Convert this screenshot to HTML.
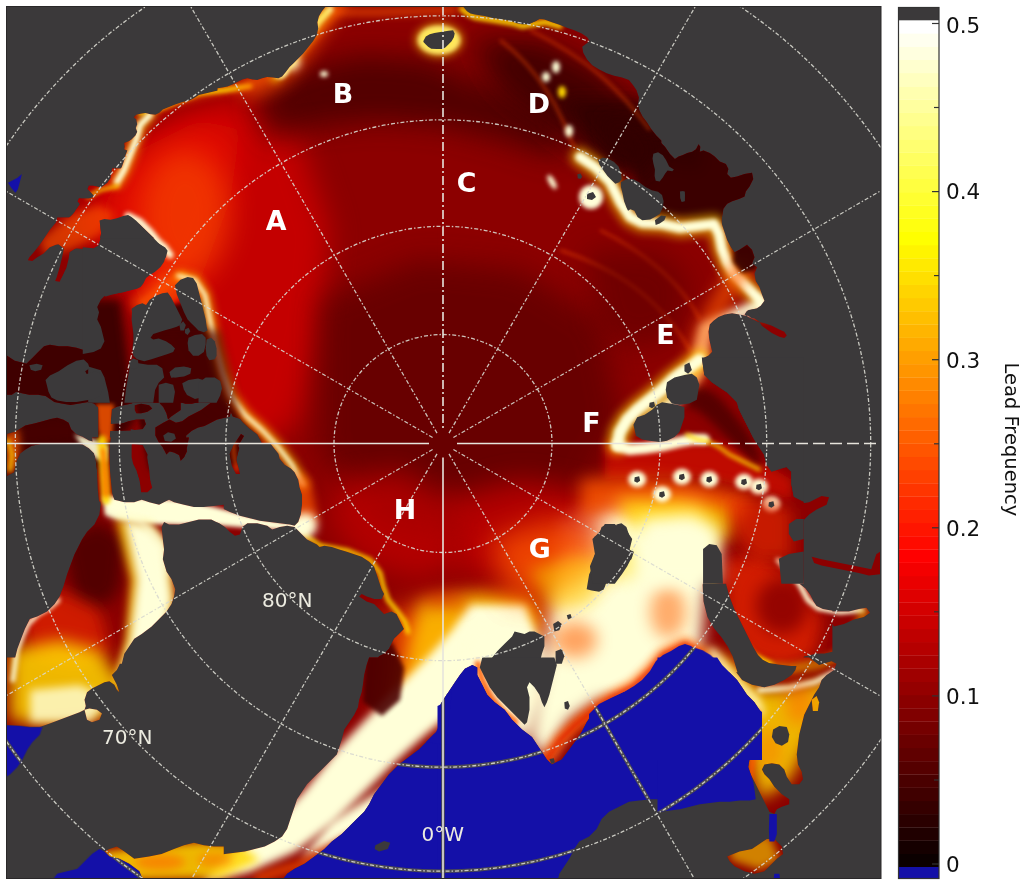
<!DOCTYPE html>
<html><head><meta charset="utf-8"><title>Lead Frequency</title>
<style>
html,body{margin:0;padding:0;background:#fff;}
svg{display:block;}
.lbl{font-family:"DejaVu Sans","Liberation Sans",sans-serif;font-weight:bold;font-size:26.8px;fill:#fff;}
.lat{font-family:"DejaVu Sans","Liberation Sans",sans-serif;font-size:20px;fill:#ecebe0;}
.cb{font-family:"DejaVu Sans","Liberation Sans",sans-serif;font-size:21.5px;fill:#111;}
</style></head>
<body>
<svg width="1024" height="885" viewBox="0 0 1024 885">
<defs>
<clipPath id="mapclip"><rect x="6" y="6" width="875" height="872.5"/></clipPath>
<filter id="b2" filterUnits="userSpaceOnUse" x="0" y="0" width="1024" height="885"><feGaussianBlur stdDeviation="2"/></filter>
<filter id="b4" filterUnits="userSpaceOnUse" x="0" y="0" width="1024" height="885"><feGaussianBlur stdDeviation="4"/></filter>
<filter id="b8" filterUnits="userSpaceOnUse" x="0" y="0" width="1024" height="885"><feGaussianBlur stdDeviation="8"/></filter>
<filter id="b14" filterUnits="userSpaceOnUse" x="0" y="0" width="1024" height="885"><feGaussianBlur stdDeviation="14"/></filter>
</defs>
<rect x="0" y="0" width="1024" height="885" fill="#fff"/>
<g clip-path="url(#mapclip)">
<rect x="6" y="6" width="875" height="873" fill="#3b393a"/>
<defs><g id="iceG"><polygon transform="translate(0,0) scale(0.248588)" points="900,360 885,362 860,368 830,375 800,382 780,395 760,405 735,410 705,420 680,430 655,440 640,455 625,462 605,460 585,455 565,458 548,462 538,472 548,480 552,500 546,515 552,530 545,545 530,560 518,568 500,575 502,590 500,600 512,605 505,625 498,650 490,672 478,690 462,695 445,705 448,720 470,730 480,740 470,748 452,752 435,758 415,762 395,760 380,750 358,748 352,760 370,778 380,790 360,800 338,805 318,798 312,810 322,822 305,845 290,870 280,900 900,900"/>
<polygon transform="translate(220,0) scale(0.248588)" points="-10,355 10,352 30,348 50,340 70,330 90,320 110,315 130,320 150,322 170,315 190,310 210,312 235,315 250,308 265,290 280,270 295,255 315,235 335,215 355,190 375,165 390,140 395,115 392,90 398,65 410,45 430,20 900,20 900,900 -10,900"/>
<polygon transform="translate(440,0) scale(0.248588)" points="-10,20 300,20 300,60 310,80 330,95 360,95 385,85 400,75 420,78 450,90 480,100 510,112 540,122 570,135 592,150 602,165 588,176 572,188 576,212 592,240 612,262 640,280 670,295 700,305 732,312 760,322 776,342 790,362 800,392 796,420 802,445 815,470 832,492 850,520 870,545 890,565 900,900 -10,900"/>
<polygon transform="translate(660,0) scale(0.248588)" points="-10,560 0,570 20,590 40,620 60,640 75,630 90,625 110,615 130,610 145,600 155,580 162,590 160,610 175,605 200,615 220,630 240,650 265,660 275,680 270,700 285,715 310,710 340,700 370,695 375,720 360,750 345,770 340,790 320,800 290,810 270,820 255,840 250,870 245,900 -10,900"/>
<polygon transform="translate(0,220) scale(0.248588)" points="230,-10 225,10 200,40 180,70 160,100 140,125 118,150 112,162 130,165 150,150 175,135 200,110 225,100 250,95 258,110 250,150 240,190 228,230 222,245 240,248 255,215 265,175 272,140 280,120 300,115 330,110 350,125 352,150 362,140 380,125 400,118 420,125 440,150 455,175 462,185 470,180 455,150 435,125 410,105 400,80 402,40 405,10 410,-10"/>
<polygon transform="translate(100,350) scale(0.158192)" points="180,60 250,40 330,60 370,20 450,10 560,20 650,60 720,100 760,160 760,220 720,260 690,290 660,300 620,330 580,340 540,340 510,330 510,380 480,400 450,420 430,440 420,400 400,360 380,340 360,300 380,240 400,200 390,160 360,150 330,120 290,100 250,110 200,130 180,110"/>
<polygon transform="translate(100,350) scale(0.158192)" points="350,490 400,460 440,440 480,460 520,450 560,420 600,400 640,380 680,350 720,320 760,300 800,340 830,380 820,420 780,430 740,440 700,460 660,480 620,490 580,510 545,540 540,600 550,640 530,680 510,700 500,660 470,630 440,640 420,660 400,620 370,580 350,540"/>
<polygon transform="translate(100,350) scale(0.158192)" points="220,350 260,340 310,350 330,370 300,390 260,400 230,400 220,380"/>
<polygon transform="translate(100,350) scale(0.158192)" points="130,470 180,450 230,440 280,440 290,470 270,500 220,505 170,495 130,490"/>
<polygon transform="translate(100,350) scale(0.158192)" points="-10,350 40,350 60,380 70,430 65,480 110,480 115,500 60,510 55,560 45,620 50,680 60,760 70,900 -10,900"/>
<polygon transform="translate(100,350) scale(0.158192)" points="200,600 270,600 300,660 290,740 310,800 330,870 300,900 260,900 250,820 230,760 210,720 200,680"/>
<polygon transform="translate(100,350) scale(0.158192)" points="830,630 870,600 880,620 860,700 870,770 850,760 840,700 820,660"/>
<polygon transform="translate(100,350) scale(0.158192)" points="-10,0 190,0 185,80 170,150 150,200 140,260 150,320 130,340 100,330 80,300 60,280 40,260 20,300 -10,310"/>
<polygon transform="translate(100,350) scale(0.158192)" points="700,-10 900,-10 900,440 840,420 800,330 770,280 760,200 740,120 730,40"/>
<polygon transform="translate(220,220) scale(0.248588)" points="-10,-10 900,-10 900,900 170,900 150,862 120,840 90,812 62,772 42,735 25,710 12,680 5,650 -10,620"/>
<polygon transform="translate(440,220) scale(0.248588)" points="-10,-10 900,-10 900,900 -10,900"/>
<polygon transform="translate(660,220) scale(0.248588)" points="-10,-10 245,-10 250,20 260,50 270,80 285,110 300,130 320,120 350,100 370,120 380,150 370,175 390,190 380,215 385,245 400,270 410,300 420,325 405,345 390,355 370,360 350,365 340,380 355,390 375,400 395,410 420,415 450,425 480,440 500,450 510,465 500,475 480,470 450,455 430,440 410,425 400,410 380,395 360,385 345,385 320,380 290,375 260,380 235,390 215,405 200,420 195,450 198,480 205,510 210,530 195,545 175,555 160,560 140,570 120,580 105,590 100,610 120,640 150,660 180,670 210,680 240,690 260,690 280,700 300,720 320,740 310,760 300,780 320,800 340,820 350,850 360,900 -10,900"/>
<polygon transform="translate(60,170) scale(0.158192)" points="330,-10 320,50 300,80 260,110 210,100 180,100 200,130 230,150 200,180 150,180 120,180 130,210 100,260 60,300 20,330 -10,345 -10,470 30,500 45,530 30,580 15,630 -10,690 -10,700 10,680 40,620 55,560 60,520 100,495 150,500 170,525 180,545 195,510 240,495 280,520 320,560 345,600 355,595 330,540 300,505 265,490 250,440 260,400 250,320 400,290 450,295 680,510 530,690 400,770 320,790 280,810 250,860 240,900 560,900 600,860 650,810 700,770 760,720 800,690 840,690 870,720 900,760 900,-10"/>
<polygon points="195,220 225,220 225,262 195,262"/>
<polygon transform="translate(0,440) scale(0.248588)" points="55,900 70,840 85,800 100,760 120,720 150,710 190,690 220,660 240,630 255,590 270,540 285,500 300,460 315,430 330,400 350,370 380,340 400,300 405,260 400,220 395,170 390,120 385,80 378,40 370,-10 445,-10 440,40 440,80 442,140 445,200 460,240 500,250 540,250 570,240 600,250 640,260 680,240 700,250 740,260 780,270 820,270 860,265 900,260 900,340 870,330 850,320 800,320 760,330 720,340 700,340 680,340 660,330 650,350 655,400 660,440 655,480 670,530 690,560 705,600 700,630 690,660 670,690 640,720 610,750 570,780 540,800 520,830 500,860 490,900"/>
<polygon transform="translate(0,440) scale(0.248588)" points="530,15 570,20 590,60 600,120 605,170 590,190 570,190 555,140 545,90 535,40"/>
<polygon transform="translate(0,440) scale(0.248588)" points="640,-10 760,-10 750,40 740,70 700,50 660,40"/>
<polygon transform="translate(220,440) scale(0.248588)" points="195,-10 200,10 215,30 235,55 240,75 260,100 285,115 300,130 315,160 320,190 330,220 330,260 325,300 315,330 300,345 280,340 240,335 200,330 160,325 120,315 80,305 40,290 -10,265 -10,330 20,350 40,370 60,385 80,380 90,350 110,335 150,335 190,345 210,360 240,350 270,345 300,350 330,380 350,400 370,410 390,420 400,430 420,425 450,430 480,440 510,450 540,460 570,470 600,490 620,510 630,540 640,570 650,600 660,620 650,640 620,640 590,630 570,620 560,630 590,650 620,660 640,680 660,700 690,690 710,700 720,720 730,740 740,760 720,780 700,800 690,820 680,840 660,860 640,870 620,900 900,900 900,-10"/>
<polygon points="241,434 244,436 238,446 235,456 238,466 240,474 236,474 232,466 230,456 233,446"/>
<polygon transform="translate(440,440) scale(0.248588)" points="-10,-10 900,-10 900,900 -10,900"/>
<polygon transform="translate(660,440) scale(0.248588)" points="-10,-10 380,-10 390,40 410,80 420,100 440,110 470,120 490,100 500,120 510,150 520,180 525,210 530,240 520,280 510,320 500,360 490,400 480,430 470,470 440,490 400,480 350,470 300,460 250,430 220,420 190,420 170,430 -10,430"/>
<polygon transform="translate(660,440) scale(0.248588)" points="-10,420 130,420 130,900 -10,900"/>
<polygon transform="translate(660,440) scale(0.248588)" points="540,260 600,250 650,225 680,230 670,260 630,280 600,300 570,330 555,350 545,380 520,390 510,360 525,330 545,300"/>
<polygon transform="translate(660,440) scale(0.248588)" points="610,470 650,480 700,490 750,500 800,510 850,520 870,460 885,450 885,540 840,545 800,535 750,525 700,515 650,505 620,495"/>
<polygon transform="translate(660,440) scale(0.248588)" points="680,690 720,690 760,690 800,680 830,675 845,695 820,712 780,722 740,740 700,750 680,720"/>
<polygon transform="translate(690,530) scale(0.158192)" points="195,-10 600,-10 605,60 590,120 570,170 560,190 580,240 620,290 680,330 730,370 760,410 780,450 800,480 840,500 900,510 900,770 850,780 800,780 760,790 720,800 700,860 640,860 560,850 500,840 460,820 430,790 400,740 370,680 340,620 310,560 280,500 250,420 230,350 220,280 210,200 195,130"/>
<polygon transform="translate(690,530) scale(0.158192)" points="-10,-10 195,-10 195,100 180,95 90,100 80,150 90,250 80,350 85,450 110,550 150,620 200,680 240,740 270,800 300,900 -10,900"/>
<polygon transform="translate(0,660) scale(0.248588)" points="-10,-10 490,-10 480,20 470,40 450,60 460,80 470,100 480,130 470,120 460,100 440,85 420,90 400,100 370,115 350,130 340,160 345,185 340,200 320,210 280,225 240,240 200,255 160,270 120,270 80,265 -10,260"/>
<polygon transform="translate(0,660) scale(0.248588)" points="340,200 360,195 390,200 410,215 400,240 370,250 350,240"/>
<polygon transform="translate(0,660) scale(0.248588)" points="420,770 440,760 470,750 500,770 540,800 600,790 650,780 700,760 740,745 780,735 820,745 860,750 900,750 900,900 580,900 560,850 520,820 480,800 440,790"/>
<polygon transform="translate(220,660) scale(0.248588)" points="600,-10 590,20 580,60 575,100 570,130 560,160 555,190 540,220 520,250 500,280 490,320 480,350 470,380 450,400 430,420 410,440 390,460 370,480 350,500 330,530 310,560 300,590 290,620 280,650 270,680 250,710 220,730 180,750 140,760 100,770 60,775 20,780 -10,785 -10,900 240,900 270,860 300,840 340,820 380,790 420,760 450,730 490,700 520,670 550,640 580,610 600,580 620,540 650,500 680,460 720,420 760,390 800,360 830,330 860,300 900,270 900,-10"/>
<polygon transform="translate(440,660) scale(0.248588)" points="-10,-10 900,-10 900,50 885,60 850,80 820,100 780,120 740,130 700,150 660,170 630,190 610,220 590,250 570,290 550,320 520,360 490,400 470,410 450,420 430,400 410,370 390,340 370,310 330,280 290,240 260,200 220,170 190,140 170,100 150,60 150,30 130,20 100,35 80,60 60,90 40,120 20,150 0,180 -10,185"/>
<polygon transform="translate(660,660) scale(0.248588)" points="230,-10 290,-10 300,40 330,80 370,100 420,110 460,100 500,80 530,60 545,40 550,20 545,-10 600,-10 640,20 690,5 710,15 700,40 670,60 650,80 640,110 620,140 600,180 580,220 570,260 560,300 555,340 550,380 555,420 570,450 575,480 560,500 530,500 510,470 500,440 480,420 450,415 420,420 410,440 420,460 440,480 460,510 490,540 520,560 520,580 490,590 470,600 460,620 440,610 420,570 400,530 385,500 365,460 355,430 360,400 370,360 380,320 390,280 400,240 400,200 380,170 350,140 330,110 310,80 280,50 250,20"/>
<polygon transform="translate(660,660) scale(0.248588)" points="270,790 320,770 370,760 400,740 430,720 460,720 490,750 495,780 470,800 440,830 420,850 380,860 340,850 300,830 280,810"/>
<polygon transform="translate(660,660) scale(0.248588)" points="610,160 630,145 640,170 635,205 615,205"/>
<polygon transform="translate(90,240) scale(0.180791)" points="-10,-10 900,-10 900,900 -10,900"/>
<polygon transform="translate(0,330) scale(0.146893)" points="40,170 100,210 180,230 220,190 260,150 300,110 340,100 400,110 460,110 520,120 580,140 620,160 670,180 700,160 720,100 710,50 700,-10 900,-10 900,500 800,520 760,540 700,530 660,520 640,500 600,490 540,500 480,510 420,500 370,490 340,470 310,450 260,440 200,440 150,430 110,420 80,440 40,440"/>
<polygon transform="translate(580,360) scale(0.248588)" points="-10,-10 490,-10 500,60 530,90 560,110 590,130 610,150 630,170 640,200 660,240 680,280 700,320 720,350 740,380 750,420 770,450 800,440 830,430 850,450 850,500 860,550 900,570 900,900 -10,900"/>
<polygon transform="translate(0,400) scale(0.126953)" points="50,270 120,250 200,200 270,185 330,170 400,150 450,140 500,155 540,180 560,230 600,270 650,290 700,320 770,335 790,330 800,300 790,200 785,100 770,40 800,-10 890,-10 880,80 870,200 865,300 860,400 862,500 870,600 880,700 890,800 780,800 770,700 765,560 760,480 740,420 700,380 650,350 580,340 450,340 330,345 250,360 200,390 160,420 130,480 110,570 50,600"/>
<polygon transform="translate(0,400) scale(0.126953)" points="860,190 1030,185 1030,240 870,245"/></g><g id="oceanG"><polygon transform="translate(0,0) scale(0.248588)" points="32,735 70,715 88,700 72,760 62,775 45,755"/>
<polygon transform="translate(690,530) scale(0.158192)" points="-10,740 30,745 80,760 130,790 170,830 200,880 210,900 -10,900"/>
<polygon transform="translate(0,660) scale(0.248588)" points="-10,260 80,265 120,270 170,270 160,300 130,330 110,360 90,400 70,430 40,460 -10,490"/>
<polygon transform="translate(0,660) scale(0.248588)" points="200,900 230,860 270,850 310,840 340,810 370,780 400,760 420,770 440,790 480,800 520,820 560,850 580,900"/>
<polygon transform="translate(220,660) scale(0.248588)" points="240,900 270,860 300,840 340,820 380,790 420,760 450,730 490,700 520,670 550,640 580,610 600,580 620,540 650,500 680,460 720,420 760,390 800,360 830,330 860,300 900,270 900,900"/>
<polygon transform="translate(440,660) scale(0.248588)" points="-10,185 0,180 20,150 40,120 60,90 80,60 100,35 130,20 150,30 150,60 170,100 190,140 220,170 260,200 290,240 330,280 370,310 390,340 410,370 430,400 450,420 470,410 490,400 520,360 550,320 570,290 590,250 610,220 630,190 660,170 700,150 740,130 780,120 820,100 850,80 885,60 900,50 900,560 850,560 800,565 760,570 720,590 680,610 650,640 630,680 600,710 560,730 540,760 520,800 500,830 480,860 470,900 -10,900"/>
<polygon transform="translate(660,660) scale(0.248588)" points="-10,-10 230,-10 250,20 280,50 310,80 330,110 350,140 380,170 400,200 400,240 390,280 380,320 370,360 360,400 355,430 365,460 375,490 380,520 385,560 360,565 320,565 280,570 240,570 200,575 160,580 120,590 80,600 40,605 0,610 -10,612"/>
<polygon transform="translate(660,660) scale(0.248588)" points="440,620 470,620 470,700 460,730 440,730 438,680"/>
<polygon transform="translate(660,660) scale(0.248588)" points="460,860 480,860 485,900 455,900"/>
<polygon points="589,714 599,704 611,698 624,692 634,686 642,680 650,671 656,661 663,655 671,651 679,646 685,644 691,646 697,651 704,657 714,661 722,667 728,675 734,682 740,692 748,700 755,706 762,712 762,760 589,760"/>
<polygon points="426,742 436,732 440,724 441.5,716 442.2,708 444,700 447,694 452,691 446,745"/></g>
<mask id="iceMask" maskUnits="userSpaceOnUse" x="0" y="0" width="1024" height="885"><use href="#iceG" fill="#fff"/></mask>
<mask id="oceanMask" maskUnits="userSpaceOnUse" x="0" y="0" width="1024" height="885"><use href="#oceanG" fill="#fff"/></mask></defs>
<use href="#iceG" fill="#8c0000"/>
<g mask="url(#iceMask)">
<polygon points="60,230 110,160 160,120 230,95 280,90 300,140 330,230 320,330 300,420 260,450 200,420 150,330 110,260" fill="#c40000" filter="url(#b14)"/>
<polygon points="100,210 140,150 200,120 240,130 230,200 200,280 170,330 140,300 120,250" fill="#e81000" filter="url(#b14)" opacity="0.8"/>
<ellipse cx="185" cy="215" rx="45" ry="65" fill="#ff5a00" filter="url(#b14)" opacity="0.5"/>
<polygon points="250,95 300,70 360,55 430,60 470,80 520,95 560,120 560,160 500,140 440,125 380,120 320,125 270,140" fill="#4a0000" filter="url(#b14)" opacity="0.85"/>
<polygon points="320,300 420,260 520,270 600,320 620,420 580,500 480,540 380,520 320,450" fill="#600000" filter="url(#b14)" opacity="0.8"/>
<polygon points="470,40 540,40 600,70 640,110 650,160 620,180 580,150 540,120 500,90" fill="#300000" filter="url(#b14)" opacity="0.8"/>
<polygon points="560,100 640,100 700,140 700,170 660,160 620,170 590,140" fill="#300000" filter="url(#b8)" opacity="0.9"/>
<polyline points="330,10 350,12 380,12 420,11 455,10" fill="none" stroke="#ff5a00" stroke-width="6" stroke-linejoin="round" stroke-linecap="round" filter="url(#b4)" opacity="0.8"/>
<polyline points="462,9 467,13 475,17 494,20 512,23 522,26 534,24 545,22 560,26" fill="none" stroke="#ffd800" stroke-width="6" stroke-linejoin="round" stroke-linecap="round" filter="url(#b2)" opacity="0.9"/>
<polyline points="340,8 300,50 270,75 240,88 210,92 180,100 150,112" fill="none" stroke="#ff5a00" stroke-width="5" stroke-linejoin="round" stroke-linecap="round" filter="url(#b4)" opacity="0.8"/>
<polygon points="385,615 440,600 520,595 560,615 520,655 470,690 420,720 385,720 392,660" fill="#ff5a00" filter="url(#b14)" opacity="0.85"/>
<polygon points="420,600 480,592 530,600 540,630 500,670 450,700 410,720 400,690" fill="#ffd800" filter="url(#b8)" opacity="0.7"/>
<polygon points="470,605 525,605 535,640 495,680 455,710 425,735 395,762 365,792 335,822 295,852 250,872 200,882 235,852 275,822 305,790 335,752 365,720 395,690 425,660 452,630" fill="#ffffd8" filter="url(#b4)"/>
<polygon points="330,822 380,790 420,760 440,740 470,720 440,770 400,800 360,830 300,860" fill="#ffffd8" filter="url(#b4)"/>
<polygon points="366,652 392,642 404,668 400,700 382,716 363,702" fill="#4a0000" filter="url(#b2)" opacity="0.9"/>
<polyline points="258,878 300,865 335,848 370,828 400,806 430,783 455,765 480,745 505,726 525,705 545,688" fill="none" stroke="#ff5a00" stroke-width="8" stroke-linejoin="round" stroke-linecap="round" filter="url(#b4)" opacity="0.8"/>
<polygon points="560,520 620,500 700,500 715,540 705,600 700,660 690,700 640,700 600,700 570,720 545,760 530,740 535,700 545,660 550,610" fill="#ffffd8" filter="url(#b8)"/>
<polygon points="470,640 520,620 550,650 545,700 530,740 500,730 480,690" fill="#ffffd8" filter="url(#b8)"/>
<ellipse cx="575" cy="640" rx="22" ry="18" fill="#ff5a00" filter="url(#b8)" opacity="0.55"/>
<ellipse cx="668" cy="612" rx="18" ry="26" fill="#ff5a00" filter="url(#b8)" opacity="0.5"/>
<ellipse cx="600" cy="738" rx="14" ry="18" fill="#ff5a00" filter="url(#b8)" opacity="0.4"/>
<ellipse cx="615" cy="560" rx="30" ry="20" fill="#ffd800" filter="url(#b8)" opacity="0.4"/>
<polyline points="545,762 560,740 575,725 589,714 611,698 634,686 650,671 663,655 685,644 697,651 714,661 728,675 740,692 755,706" fill="none" stroke="#ff5a00" stroke-width="12" stroke-linejoin="round" stroke-linecap="round" filter="url(#b4)" opacity="0.85"/>
<polyline points="545,762 560,740 575,725 589,714 611,698 634,686 650,671 663,655 685,644 697,651 714,661 728,675 740,692 755,706" fill="none" stroke="#e02000" stroke-width="4" stroke-linejoin="round" stroke-linecap="round" filter="url(#b2)" opacity="0.8"/>
<polygon points="440,500 520,480 580,490 600,520 580,560 520,580 460,570" fill="#c40000" filter="url(#b14)" opacity="0.8"/>
<polygon points="490,540 550,520 600,530 600,570 560,600 510,600" fill="#ff5a00" filter="url(#b14)" opacity="0.75"/>
<polygon points="530,570 580,555 610,570 590,605 550,610" fill="#ffd800" filter="url(#b8)" opacity="0.5"/>
<polygon points="340,480 400,470 450,500 460,560 420,580 360,560 330,520" fill="#c40000" filter="url(#b14)" opacity="0.7"/>
<polygon points="722,560 760,555 800,585 822,620 815,655 785,668 750,660 728,625" fill="#e82800" filter="url(#b8)" opacity="0.75"/>
<ellipse cx="782" cy="606" rx="26" ry="28" fill="#8a0000" filter="url(#b8)" opacity="0.85"/>
<polyline points="708,548 712,580 718,610 735,635 752,655 770,665" fill="none" stroke="#ffd800" stroke-width="7" stroke-linejoin="round" stroke-linecap="round" filter="url(#b2)" opacity="0.9"/>
<polyline points="778,560 790,572 800,585 808,600 818,608 840,612 862,610" fill="none" stroke="#ffffd8" stroke-width="5" stroke-linejoin="round" stroke-linecap="round" filter="url(#b2)"/>
<polyline points="760,666 790,669 820,664 850,650 865,610" fill="none" stroke="#ffd800" stroke-width="6" stroke-linejoin="round" stroke-linecap="round" filter="url(#b4)" opacity="0.8"/>
<polygon points="625,132 700,140 760,160 765,200 740,222 700,222 660,218 640,200" fill="#300000" filter="url(#b4)" opacity="0.9"/>
<polygon points="600,115 640,120 660,150 640,180 610,160" fill="#300000" filter="url(#b8)" opacity="0.6"/>
<polyline points="580,157 595,167 610,182 620,202 630,217 642,223 662,224 680,228 697,226 714,224 719,234 722,249 727,262 734,274 749,289 759,299 764,309" fill="none" stroke="#ffd800" stroke-width="20" stroke-linejoin="round" stroke-linecap="round" filter="url(#b4)" opacity="0.55"/>
<polyline points="580,157 595,167 610,182 620,202 630,217 642,223 662,224 680,228 697,226 714,224 719,234 722,249 727,262 734,274 749,289 759,299 764,309" fill="none" stroke="#ffffd8" stroke-width="10" stroke-linejoin="round" stroke-linecap="round" filter="url(#b2)"/>
<ellipse cx="591" cy="197" rx="12" ry="12" fill="#ffffd8" filter="url(#b2)"/>
<polyline points="762,304 740,313 722,320 706,328 702,345 700,362 693,378 680,395 665,405 650,418" fill="none" stroke="#ffffd8" stroke-width="12" stroke-linejoin="round" stroke-linecap="round" filter="url(#b4)"/>
<path d="M 500,40 C 540,70 560,110 575,150 M 530,30 C 590,60 620,90 650,130 M 600,230 C 640,250 680,280 700,320 M 560,250 C 620,270 660,300 690,350" fill="none" stroke="#ff5000" stroke-width="2.5" opacity="0.55" filter="url(#b2)"/>
<polygon points="585,250 660,250 690,280 680,330 640,350 600,330" fill="#5a0000" filter="url(#b14)" opacity="0.55"/>
<polyline points="745,262 732,282 722,300 712,318 704,332 700,350 697,368 688,385" fill="none" stroke="#ff5a00" stroke-width="18" stroke-linejoin="round" stroke-linecap="round" filter="url(#b8)" opacity="0.7"/>
<ellipse cx="556" cy="67" rx="4" ry="6" fill="#ffffd8" filter="url(#b2)"/>
<ellipse cx="546" cy="77" rx="4" ry="5" fill="#ffffd8" filter="url(#b2)"/>
<ellipse cx="562" cy="92" rx="4" ry="6" fill="#ffd800" filter="url(#b2)"/>
<ellipse cx="569" cy="131" rx="4" ry="6" fill="#ffffd8" filter="url(#b2)"/>
<ellipse cx="552" cy="182" rx="3" ry="8" fill="#ffffd8" filter="url(#b2)" transform="rotate(-30 552 182)"/>
<ellipse cx="324" cy="74" rx="4" ry="3" fill="#ffffd8" filter="url(#b2)"/>
<ellipse cx="439" cy="40" rx="21" ry="14" fill="#ffffd8" filter="url(#b2)"/>
<ellipse cx="439" cy="40" rx="24" ry="17" fill="#ffd800" filter="url(#b4)" opacity="0.6"/>
<polyline points="250,86 225,90 200,93 180,100 160,108 140,113" fill="none" stroke="#ffd800" stroke-width="5" stroke-linejoin="round" stroke-linecap="round" filter="url(#b2)" opacity="0.95"/>
<polyline points="332,6 322,18 310,35 298,52 284,70 268,80 250,86" fill="none" stroke="#ff5a00" stroke-width="24" stroke-linejoin="round" stroke-linecap="round" filter="url(#b8)" opacity="0.6"/>
<polyline points="330,9 318,22 305,40 292,60 280,75" fill="none" stroke="#ffffd8" stroke-width="6" stroke-linejoin="round" stroke-linecap="round" filter="url(#b2)"/>
<polyline points="150,114 140,126 135,140 130,155 124,170 117,182" fill="none" stroke="#ffd800" stroke-width="12" stroke-linejoin="round" stroke-linecap="round" filter="url(#b4)" opacity="0.6"/>
<polyline points="150,115 140,125 136,140 130,155 124,170 117,182" fill="none" stroke="#ffffd8" stroke-width="6" stroke-linejoin="round" stroke-linecap="round" filter="url(#b2)"/>
<polyline points="118,186 100,190 88,197" fill="none" stroke="#ffd800" stroke-width="4" stroke-linejoin="round" stroke-linecap="round" filter="url(#b2)" opacity="0.8"/>
<ellipse cx="290" cy="62" rx="10" ry="8" fill="#ffffd8" filter="url(#b4)"/>
<ellipse cx="280" cy="70" rx="8" ry="8" fill="#ffffd8" filter="url(#b2)"/>
<polyline points="275,78 290,60 305,40 318,22 328,10" fill="none" stroke="#ffd800" stroke-width="8" stroke-linejoin="round" stroke-linecap="round" filter="url(#b4)" opacity="0.8"/>
<polyline points="128,216 140,222 150,232 158,242 165,248 170,255" fill="none" stroke="#ffffd8" stroke-width="7" stroke-linejoin="round" stroke-linecap="round" filter="url(#b2)"/>
<polygon points="185,302 203,300 206,323 211,345 216,365 221,385 226,398 236,414 250,427 262,440 250,462 200,470 150,470 135,400 135,322 160,308" fill="#3a0000" filter="url(#b2)" opacity="0.92"/>
<polygon points="138,302 163,282 183,270 196,284 176,300 150,314" fill="#ff5a00" filter="url(#b2)" opacity="0.55"/>
<polyline points="178,276 195,280 205,295 210,320 215,345 222,372 230,395 245,415 262,430 278,447 292,465 303,485" fill="none" stroke="#ffd800" stroke-width="10" stroke-linejoin="round" stroke-linecap="round" filter="url(#b4)" opacity="0.7"/>
<polyline points="178,276 195,280 205,295 210,320 215,345 222,372 230,395 245,415 262,430 278,447 292,465 303,485" fill="none" stroke="#ffffd8" stroke-width="4" stroke-linejoin="round" stroke-linecap="round" filter="url(#b2)" opacity="0.95"/>
<polygon points="40,240 70,215 100,205 115,215 100,235 70,250 45,255" fill="#ff5a00" filter="url(#b4)" opacity="0.6"/>
<polygon points="130,300 165,270 180,280 160,300 135,315" fill="#ff5a00" filter="url(#b4)" opacity="0.5"/>
<polygon points="0,300 120,300 135,420 100,470 0,480" fill="#300000" filter="url(#b4)" opacity="0.85"/>
<polygon points="150,330 220,330 240,420 200,480 150,470 140,400" fill="#4a0000" filter="url(#b4)" opacity="0.7"/>
<polyline points="296,522 307,537 321,546 348,551 370,560 380,573 383,586 388,600 397,611 405,622 408,632" fill="none" stroke="#ffd800" stroke-width="5" stroke-linejoin="round" stroke-linecap="round" filter="url(#b2)" opacity="0.9"/>
<ellipse cx="300" cy="527" rx="10" ry="9" fill="#ffffd8" filter="url(#b4)"/>
<polygon points="296,470 310,480 318,520 305,530 292,515" fill="#ff5a00" filter="url(#b4)" opacity="0.7"/>
<polygon points="103,496 150,498 180,500 210,506 230,511 260,518 290,523 305,522 305,532 280,530 250,528 225,526 205,524 180,525 150,524 120,520 105,515" fill="#ffffd8" filter="url(#b2)"/>
<polyline points="233,440 234,455 237,470" fill="none" stroke="#ff5a00" stroke-width="3" stroke-linejoin="round" stroke-linecap="round" filter="url(#b2)" opacity="0.8"/>
<ellipse cx="305" cy="525" rx="12" ry="12" fill="#ffffd8" filter="url(#b4)"/>
<polygon points="19,425 50,419 76,421 76,441 50,443 19,446" fill="#4a0000" filter="url(#b4)" opacity="0.7"/>
<polygon points="6,432 18,428 20,450 16,470 6,476" fill="#ff5a00" filter="url(#b4)" opacity="0.8"/>
<polyline points="8,440 12,455 10,470" fill="none" stroke="#ffd800" stroke-width="4" stroke-linejoin="round" stroke-linecap="round" filter="url(#b2)" opacity="0.8"/>
<polygon points="74,434 95,440 108,446 106,462 95,458 82,446" fill="#ffffd8" filter="url(#b2)" opacity="0.9"/>
<polygon points="96,404 114,404 112,440 104,445 98,430" fill="#ff5a00" filter="url(#b2)" opacity="0.8"/>
<polygon points="62,540 100,520 125,540 120,590 100,610 75,600" fill="#4a0000" filter="url(#b8)" opacity="0.85"/>
<polygon points="20,600 60,590 100,610 110,650 80,670 30,660" fill="#e02000" filter="url(#b8)" opacity="0.8"/>
<polygon points="10,650 60,640 100,650 125,690 100,720 40,725 10,720" fill="#ffd800" filter="url(#b8)" opacity="0.85"/>
<polygon points="30,690 80,685 110,700 90,722 30,722" fill="#ffffd8" filter="url(#b4)" opacity="0.8"/>
<polygon points="115,518 150,524 168,545 175,600 165,650 140,690 112,684 125,640 130,580" fill="#ffd800" filter="url(#b4)" opacity="0.7"/>
<polygon points="125,520 150,528 165,545 172,600 160,650 135,690 118,680 130,640 137,580" fill="#ffffd8" filter="url(#b4)"/>
<polyline points="102,440 104,470 106,500" fill="none" stroke="#ffd800" stroke-width="9" stroke-linejoin="round" stroke-linecap="round" filter="url(#b2)" opacity="0.9"/>
<polyline points="103,450 105,475 106,495" fill="none" stroke="#ff5a00" stroke-width="4" stroke-linejoin="round" stroke-linecap="round" filter="url(#b2)" opacity="0.8"/>
<polyline points="112,512 140,520 158,540 168,570" fill="none" stroke="#ffffd8" stroke-width="8" stroke-linejoin="round" stroke-linecap="round" filter="url(#b4)" opacity="0.9"/>
<polygon points="100,852 150,846 200,842 240,845 260,860 220,878 120,880" fill="#ffd800" filter="url(#b4)" opacity="0.85"/>
<ellipse cx="160" cy="862" rx="25" ry="8" fill="#ff5a00" filter="url(#b4)" opacity="0.5"/>
<ellipse cx="215" cy="860" rx="18" ry="7" fill="#ff5a00" filter="url(#b4)" opacity="0.4"/>
<polyline points="13,680 17,650 22,637 28,624 38,614 50,607 58,600" fill="none" stroke="#ffffd8" stroke-width="5" stroke-linejoin="round" stroke-linecap="round" filter="url(#b2)" opacity="0.9"/>
<polygon points="705,650 730,660 760,690 790,690 830,680 840,700 810,740 790,780 760,800 750,760 740,720 720,690" fill="#ffd800" filter="url(#b8)" opacity="0.85"/>
<polyline points="712,652 725,668 740,686 755,700 760,712" fill="none" stroke="#ffffd8" stroke-width="8" stroke-linejoin="round" stroke-linecap="round" filter="url(#b4)" opacity="0.9"/>
<polyline points="760,690 790,688 815,682 835,672" fill="none" stroke="#ffffd8" stroke-width="6" stroke-linejoin="round" stroke-linecap="round" filter="url(#b2)" opacity="0.8"/>
<ellipse cx="800" cy="705" rx="15" ry="20" fill="#ff5a00" filter="url(#b8)" opacity="0.45"/>
<ellipse cx="770" cy="750" rx="12" ry="22" fill="#ff5a00" filter="url(#b8)" opacity="0.35"/>
<polyline points="757,712 756,735 754,750 752,765 750,780" fill="none" stroke="#ff5a00" stroke-width="6" stroke-linejoin="round" stroke-linecap="round" filter="url(#b2)" opacity="0.8"/>
<polygon points="730,840 770,835 780,860 760,870 730,860" fill="#ffd800" filter="url(#b4)" opacity="0.6"/>
<polygon points="604.9,442.0 679.4,442.0 729.2,444.5 766.4,464.4 791.3,479.3 791.3,499.2 754.0,489.3 704.3,476.8 654.6,476.8 604.9,479.3" fill="#c80800" filter="url(#b4)" opacity="0.85"/>
<polygon points="686.9,389.8 704.3,387.3 719.2,397.3 734.1,414.7 749.0,434.6 759.0,454.5 764.0,466.9 754.0,464.4 739.1,449.5 724.2,434.6 709.3,419.7 696.8,409.7 686.9,407.2" fill="#4a0000" filter="url(#b4)" opacity="0.8"/>
<polyline points="617.3,444.5 619.8,432.1 627.2,419.7 637.2,409.7 649.6,399.8 662.0,389.8 672.0,379.9 681.9,372.4 689.4,367.5 699.3,360.0" fill="none" stroke="#ffd800" stroke-width="22" stroke-linejoin="round" stroke-linecap="round" filter="url(#b4)" opacity="0.6"/>
<polyline points="617.3,444.5 619.8,432.1 627.2,419.7 637.2,409.7 649.6,399.8 662.0,389.8 672.0,379.9 681.9,372.4 689.4,367.5 699.3,360.0" fill="none" stroke="#ffffd8" stroke-width="12" stroke-linejoin="round" stroke-linecap="round" filter="url(#b2)"/>
<polyline points="617.3,445.8 629.7,449.5 644.6,448.2 662.0,445.8 679.4,442.0 691.9,439.5 704.3,439.5" fill="none" stroke="#ffffd8" stroke-width="11" stroke-linejoin="round" stroke-linecap="round" filter="url(#b2)"/>
<polyline points="686.9,434.6 696.8,439.5 709.3,442.0 719.2,447.0 729.2,454.5 739.1,459.4 749.0,464.4 759.0,469.4" fill="none" stroke="#ffd800" stroke-width="4" stroke-linejoin="round" stroke-linecap="round" filter="url(#b2)" opacity="0.8"/>
<polygon points="580.0,479.3 629.7,476.8 679.4,479.3 729.2,489.3 754.0,499.2 741.6,521.6 704.3,519.1 654.6,514.1 604.9,514.1 580.0,519.1" fill="#ff5a00" filter="url(#b8)" opacity="0.8"/>
<polygon points="617.3,499.2 679.4,499.2 729.2,509.2 734.1,534.0 704.3,548.9 654.6,539.0 629.7,524.1" fill="#ffd800" filter="url(#b8)" opacity="0.8"/>
<polygon points="642.1,519.1 691.9,514.1 719.2,529.0 719.2,583.7 642.1,583.7 634.7,553.9" fill="#ffffd8" filter="url(#b8)"/>
<ellipse cx="637.2" cy="479.3" rx="9" ry="8" fill="#ffffd8" filter="url(#b2)"/>
<ellipse cx="662.0" cy="494.2" rx="9" ry="8" fill="#ffffd8" filter="url(#b2)"/>
<ellipse cx="681.9" cy="476.8" rx="9" ry="8" fill="#ffffd8" filter="url(#b2)"/>
<ellipse cx="709.3" cy="479.3" rx="9" ry="8" fill="#ffffd8" filter="url(#b2)"/>
<ellipse cx="744.1" cy="481.8" rx="9" ry="8" fill="#ffffd8" filter="url(#b2)"/>
<ellipse cx="759.0" cy="486.8" rx="9" ry="8" fill="#ffffd8" filter="url(#b2)"/>
<ellipse cx="771.4" cy="504.2" rx="9" ry="8" fill="#ffffd8" filter="url(#b2)"/>
<polygon points="729.2,499.2 766.4,499.2 791.3,509.2 791.3,558.9 754.0,558.9 734.1,534.0" fill="#e02800" filter="url(#b8)" opacity="0.7"/>
<polyline points="478,664 482,680 490,697 502,711 515,722" fill="none" stroke="#ff5a00" stroke-width="7" stroke-linejoin="round" stroke-linecap="round" filter="url(#b2)" opacity="0.85"/>
<polyline points="430,602 445,600 460,602" fill="none" stroke="#d01000" stroke-width="10" stroke-linejoin="round" stroke-linecap="round" filter="url(#b8)" opacity="0.6"/>
<polygon points="734,246 750,243 758,256 756,270 742,273 733,262" fill="#300000" filter="url(#b2)" opacity="0.9"/>
</g>
<use href="#oceanG" fill="#1410a8"/>
<g fill="#3b393a"><polygon points="423.4,40.9 425.8,36.6 429.7,34.2 434.4,33 439,32.3 443.75,31.5 448.4,30.7 453.1,30.3 454.7,33.4 453.9,37.3 451.6,41.25 448.4,44.4 445.3,47.5 442.2,49 436.7,49 431.25,48.7 428.1,46.7 425.8,44.4 423.4,42"/>
<polygon transform="translate(560,100) scale(0.158192)" points="240,380 270,365 300,370 340,390 370,420 385,460 390,500 375,520 350,530 330,510 300,480 275,445 250,410"/>
<polygon transform="translate(560,100) scale(0.158192)" points="385,520 420,500 460,500 500,520 540,550 580,570 620,580 645,600 655,640 650,680 630,720 600,740 570,755 520,760 490,740 470,700 445,690 430,700 420,680 405,640 395,590 385,550"/>
<polygon transform="translate(560,100) scale(0.158192)" points="590,340 620,330 650,350 670,380 690,420 720,440 710,450 680,445 665,465 650,490 630,515 605,510 598,480 600,440 590,400 585,370"/>
<polygon transform="translate(560,100) scale(0.158192)" points="600,760 640,730 670,735 660,760 630,780 605,790"/>
<polygon transform="translate(560,100) scale(0.158192)" points="760,580 780,575 790,600 785,640 770,645 760,620"/>
<polygon transform="translate(560,100) scale(0.158192)" points="110,470 130,465 140,485 130,500 112,495"/>
<polygon transform="translate(560,100) scale(0.158192)" points="170,600 195,590 220,600 215,620 185,625"/>
<polygon transform="translate(660,0) scale(0.248588)" points="80,770 100,770 100,810 85,810"/>
<polygon transform="translate(100,350) scale(0.158192)" points="440,140 500,115 560,110 540,150 500,170 450,175"/>
<polygon transform="translate(100,350) scale(0.158192)" points="520,210 560,190 620,180 690,200 740,215 720,255 660,295 600,310 550,285 530,250"/>
<polygon transform="translate(100,350) scale(0.158192)" points="400,540 430,520 470,530 480,560 450,580 410,575"/>
<polygon transform="translate(660,220) scale(0.248588)" points="355,362 385,358 402,380 395,395 370,395 355,385"/>
<polygon transform="translate(60,170) scale(0.158192)" points="250,320 280,310 320,315 360,305 400,290 430,285 450,295 480,320 510,350 540,380 570,410 600,440 630,470 665,490 680,510 670,550 650,580 620,610 590,640 560,660 530,690 500,720 470,745 440,760 400,770 360,780 320,790 290,800 260,790 240,750 250,700 300,650 340,610 350,590 320,560 290,540 265,500 248,470 255,440 260,400 255,360"/>
<polygon transform="translate(440,440) scale(0.248588)" points="620,390 640,380 650,350 670,340 680,360 700,370 710,340 730,335 750,350 760,380 750,410 760,440 780,450 770,480 740,500 720,520 700,540 680,555 670,570 660,600 640,610 610,605 590,600 595,570 600,540 610,520 630,500 620,470 630,440 620,420"/>
<polygon transform="translate(440,440) scale(0.248588)" points="190,900 230,850 260,820 290,790 300,770 320,775 340,780 360,770 380,770 400,780 420,790 420,830 410,860 400,900"/>
<polygon transform="translate(440,440) scale(0.248588)" points="455,740 475,728 490,740 480,765 460,770"/>
<polygon transform="translate(440,440) scale(0.248588)" points="510,705 525,700 530,715 515,722"/>
<polygon transform="translate(440,440) scale(0.248588)" points="465,850 490,840 500,870 490,900 465,900"/>
<polygon transform="translate(220,660) scale(0.248588)" points="625,745 660,728 685,735 675,760 640,770 622,760"/>
<polygon transform="translate(440,660) scale(0.248588)" points="170,-10 460,-10 470,20 460,60 450,100 440,140 430,170 420,190 410,170 400,140 380,110 360,90 350,110 360,150 360,200 350,250 340,260 320,240 290,210 260,180 230,150 200,110 180,70 160,30"/>
<polygon transform="translate(440,660) scale(0.248588)" points="500,170 515,165 522,185 515,200 502,195"/>
<polygon transform="translate(440,660) scale(0.248588)" points="440,398 458,395 462,412 448,418"/>
<polygon transform="translate(660,660) scale(0.248588)" points="455,280 480,265 510,270 520,300 515,330 490,345 465,335 450,310"/>
<polygon transform="translate(90,240) scale(0.180791)" points="-40,40 20,45 45,30 60,-10 330,-10 345,10 380,20 410,40 420,80 410,120 390,150 360,175 330,195 310,210 295,240 280,260 260,270 220,280 180,290 150,295 110,300 80,310 60,330 40,370 50,400 40,440 60,480 70,520 80,560 60,600 20,620 -40,630"/>
<polygon transform="translate(90,240) scale(0.180791)" points="230,380 260,360 290,350 310,360 330,330 360,310 400,295 430,290 450,320 470,360 490,400 510,440 500,470 480,480 450,490 410,500 380,510 350,520 335,540 350,550 380,545 420,560 450,580 470,600 460,620 430,630 400,640 370,650 340,660 300,670 260,660 240,640 235,600 240,560 240,520 235,480 230,440 232,400"/>
<polygon transform="translate(90,240) scale(0.180791)" points="470,250 500,220 540,205 570,210 590,240 600,280 610,320 620,360 630,400 640,440 645,480 650,500 630,510 600,500 580,480 560,460 540,440 520,400 500,350 480,300"/>
<polygon transform="translate(90,240) scale(0.180791)" points="545,540 580,525 620,520 640,540 640,580 630,620 600,640 570,640 545,610 540,570"/>
<polygon transform="translate(90,240) scale(0.180791)" points="645,550 670,540 690,560 700,600 700,640 690,660 660,665 645,640 640,600"/>
<polygon transform="translate(90,240) scale(0.180791)" points="495,470 515,450 530,470 520,500 500,500"/>
<polygon transform="translate(90,240) scale(0.180791)" points="525,495 545,485 555,505 540,525 525,515"/>
<polygon transform="translate(90,240) scale(0.180791)" points="440,730 470,705 520,700 560,710 555,740 520,755 470,760 445,750"/>
<polygon transform="translate(90,240) scale(0.180791)" points="600,790 640,760 690,760 720,780 730,820 720,860 700,900 600,900"/>
<polygon transform="translate(90,240) scale(0.180791)" points="380,800 420,790 460,800 470,840 460,900 380,900"/>
<polygon transform="translate(90,240) scale(0.180791)" points="220,700 260,680 320,690 370,690 400,710 410,760 380,790 360,830 350,900 190,900 200,820 210,760"/>
<polygon transform="translate(90,240) scale(0.180791)" points="215,670 240,655 265,665 270,700 245,715 220,705"/>
<polygon transform="translate(90,240) scale(0.180791)" points="-10,700 60,720 80,760 90,800 100,840 110,900 -10,900"/>
<polygon transform="translate(0,330) scale(0.146893)" points="310,340 340,310 400,280 460,240 520,210 570,200 600,230 610,260 580,280 590,300 650,280 690,300 710,350 700,400 680,450 640,470 580,480 520,490 450,490 390,480 350,460 330,420 320,380"/>
<polygon transform="translate(0,330) scale(0.146893)" points="200,240 250,230 290,240 280,270 240,280 210,270"/>
<polygon points="587,194 593,192 596,197 592,200 587,199"/>
<polygon transform="translate(580,360) scale(0.248588)" points="490,-10 500,60 530,90 560,110 590,130 610,150 630,170 640,200 660,240 680,280 700,320 720,350 740,380 750,420 770,450 800,440 830,430 850,450 850,500 860,550 900,570 900,-10"/>
<polygon transform="translate(580,360) scale(0.248588)" points="350,90 380,70 420,60 450,55 470,70 480,100 475,130 470,160 440,175 400,180 370,175 350,150 345,120"/>
<polygon transform="translate(580,360) scale(0.248588)" points="215,260 230,230 260,220 290,200 310,180 330,170 360,175 390,180 420,190 420,230 410,260 400,290 380,310 350,325 320,330 280,325 250,320 225,305"/>
<polygon transform="translate(580,360) scale(0.248588)" points="420,20 440,10 450,40 435,55 420,45"/>
<polygon transform="translate(580,360) scale(0.248588)" points="50,720 80,690 100,660 140,660 160,680 190,690 210,720 200,760 210,790 190,830 170,860 140,900 50,900 40,830 60,780"/>
<polygon transform="translate(580,360) scale(0.248588)" points="495,760 520,740 550,745 570,780 575,900 495,900"/>
<polygon transform="translate(580,360) scale(0.248588)" points="840,660 870,640 900,640 900,720 860,730 840,700"/>
<polygon transform="translate(580,360) scale(0.248588)" points="800,800 840,780 900,770 900,900 810,900"/>
<polygon transform="translate(580,360) scale(0.248588)" points="220,472 238,468 242,486 230,494 218,488"/>
<polygon transform="translate(580,360) scale(0.248588)" points="320,532 338,528 342,546 330,554 318,548"/>
<polygon transform="translate(580,360) scale(0.248588)" points="400,462 418,458 422,476 410,484 398,478"/>
<polygon transform="translate(580,360) scale(0.248588)" points="510,472 528,468 532,486 520,494 508,488"/>
<polygon transform="translate(580,360) scale(0.248588)" points="650,482 668,478 672,496 660,504 648,498"/>
<polygon transform="translate(580,360) scale(0.248588)" points="710,502 728,498 732,516 720,524 708,518"/>
<polygon transform="translate(580,360) scale(0.248588)" points="760,572 778,568 782,586 770,594 758,588"/>
<polygon transform="translate(580,360) scale(0.248588)" points="280,172 298,168 302,186 290,194 278,188"/>
<polygon points="461,4 467,11.2 470.5,13.5 475,14.5 484.5,16 494,18.3 503,19.5 512.7,21.5 516,23 522,24.2 529,24.2 533.75,21.8 539.6,18.8 545,17.5 548,4"/></g>

<g mask="url(#oceanMask)" fill="none" stroke="#4d4b52" stroke-width="3.6">
<circle cx="443.0" cy="443.5" r="109.0"/>
<circle cx="443.0" cy="443.5" r="217.2"/>
<circle cx="443.0" cy="443.5" r="323.7"/>
<circle cx="443.0" cy="443.5" r="427.7"/>
<circle cx="443.0" cy="443.5" r="528.5"/>
<line x1="449.0" y1="433.1" x2="893.0" y2="-335.9"/>
<line x1="453.4" y1="437.5" x2="1222.4" y2="-6.5"/>
<line x1="453.4" y1="449.5" x2="1222.4" y2="893.5"/>
<line x1="449.0" y1="453.9" x2="893.0" y2="1222.9"/>
<line x1="437.0" y1="453.9" x2="-7.0" y2="1222.9"/>
<line x1="432.6" y1="449.5" x2="-336.4" y2="893.5"/>
<line x1="432.6" y1="437.5" x2="-336.4" y2="-6.5"/>
<line x1="437.0" y1="433.1" x2="-7.0" y2="-335.9"/>
<line x1="443.0" y1="443.5" x2="443.0" y2="885"/>
<line x1="443.0" y1="443.5" x2="885" y2="443.5"/>
</g>
<g fill="none" stroke="#d9d9d0" stroke-width="1.3" stroke-dasharray="4 2 1.5 2" opacity="0.9">
<circle cx="443.0" cy="443.5" r="109.0"/>
<circle cx="443.0" cy="443.5" r="217.2"/>
<circle cx="443.0" cy="443.5" r="323.7"/>
<circle cx="443.0" cy="443.5" r="427.7"/>
<circle cx="443.0" cy="443.5" r="528.5"/>
<line x1="449.0" y1="433.1" x2="893.0" y2="-335.9"/>
<line x1="453.4" y1="437.5" x2="1222.4" y2="-6.5"/>
<line x1="453.4" y1="449.5" x2="1222.4" y2="893.5"/>
<line x1="449.0" y1="453.9" x2="893.0" y2="1222.9"/>
<line x1="437.0" y1="453.9" x2="-7.0" y2="1222.9"/>
<line x1="432.6" y1="449.5" x2="-336.4" y2="893.5"/>
<line x1="432.6" y1="437.5" x2="-336.4" y2="-6.5"/>
<line x1="437.0" y1="433.1" x2="-7.0" y2="-335.9"/>
</g>
<g stroke="#e6e4dc" stroke-width="1.6">
<line x1="443.0" y1="6" x2="443.0" y2="429.5" stroke-dasharray="9 3 2 3"/>
<line x1="443.0" y1="457.5" x2="443.0" y2="880"/>
<line x1="6" y1="443.5" x2="429.0" y2="443.5"/>
<line x1="457.0" y1="443.5" x2="660" y2="443.5"/>
<line x1="660" y1="443.5" x2="881" y2="443.5" stroke-dasharray="12 5"/>
</g>
<text class="lbl" x="265.8" y="229.6">A</text>
<text class="lbl" x="332.8" y="102.6">B</text>
<text class="lbl" x="456.8" y="192.1">C</text>
<text class="lbl" x="527.8" y="113.1">D</text>
<text class="lbl" x="656.3" y="343.6">E</text>
<text class="lbl" x="582.3" y="432.1">F</text>
<text class="lbl" x="528.8" y="558.1">G</text>
<text class="lbl" x="393.8" y="518.6">H</text>
<text class="lat" x="262" y="606.5">80°N</text>
<text class="lat" x="102" y="743.5">70°N</text>
<text class="lat" x="421.5" y="841">0°W</text>
</g>
<rect x="6.5" y="6.5" width="874.5" height="872" fill="none" stroke="#2a2829" stroke-width="1"/>
<g>
<rect x="898" y="853.77" width="41" height="13.53" fill="#0b0000"/>
<rect x="898" y="840.53" width="41" height="13.53" fill="#150000"/>
<rect x="898" y="827.30" width="41" height="13.53" fill="#200000"/>
<rect x="898" y="814.06" width="41" height="13.53" fill="#2a0000"/>
<rect x="898" y="800.83" width="41" height="13.53" fill="#350000"/>
<rect x="898" y="787.59" width="41" height="13.53" fill="#400000"/>
<rect x="898" y="774.36" width="41" height="13.53" fill="#4a0000"/>
<rect x="898" y="761.12" width="41" height="13.53" fill="#550000"/>
<rect x="898" y="747.89" width="41" height="13.53" fill="#600000"/>
<rect x="898" y="734.66" width="41" height="13.53" fill="#6a0000"/>
<rect x="898" y="721.42" width="41" height="13.53" fill="#750000"/>
<rect x="898" y="708.19" width="41" height="13.53" fill="#800000"/>
<rect x="898" y="694.95" width="41" height="13.53" fill="#8a0000"/>
<rect x="898" y="681.72" width="41" height="13.53" fill="#950000"/>
<rect x="898" y="668.48" width="41" height="13.53" fill="#9f0000"/>
<rect x="898" y="655.25" width="41" height="13.53" fill="#aa0000"/>
<rect x="898" y="642.02" width="41" height="13.53" fill="#b50000"/>
<rect x="898" y="628.78" width="41" height="13.53" fill="#bf0000"/>
<rect x="898" y="615.55" width="41" height="13.53" fill="#ca0000"/>
<rect x="898" y="602.31" width="41" height="13.53" fill="#d40000"/>
<rect x="898" y="589.08" width="41" height="13.53" fill="#df0000"/>
<rect x="898" y="575.84" width="41" height="13.53" fill="#ea0000"/>
<rect x="898" y="562.61" width="41" height="13.53" fill="#f40000"/>
<rect x="898" y="549.38" width="41" height="13.53" fill="#ff0000"/>
<rect x="898" y="536.14" width="41" height="13.53" fill="#ff0b00"/>
<rect x="898" y="522.91" width="41" height="13.53" fill="#ff1500"/>
<rect x="898" y="509.67" width="41" height="13.53" fill="#ff2000"/>
<rect x="898" y="496.44" width="41" height="13.53" fill="#ff2a00"/>
<rect x="898" y="483.20" width="41" height="13.53" fill="#ff3500"/>
<rect x="898" y="469.97" width="41" height="13.53" fill="#ff4000"/>
<rect x="898" y="456.73" width="41" height="13.53" fill="#ff4a00"/>
<rect x="898" y="443.50" width="41" height="13.53" fill="#ff5500"/>
<rect x="898" y="430.27" width="41" height="13.53" fill="#ff6000"/>
<rect x="898" y="417.03" width="41" height="13.53" fill="#ff6a00"/>
<rect x="898" y="403.80" width="41" height="13.53" fill="#ff7500"/>
<rect x="898" y="390.56" width="41" height="13.53" fill="#ff8000"/>
<rect x="898" y="377.33" width="41" height="13.53" fill="#ff8a00"/>
<rect x="898" y="364.09" width="41" height="13.53" fill="#ff9500"/>
<rect x="898" y="350.86" width="41" height="13.53" fill="#ff9f00"/>
<rect x="898" y="337.62" width="41" height="13.53" fill="#ffaa00"/>
<rect x="898" y="324.39" width="41" height="13.53" fill="#ffb500"/>
<rect x="898" y="311.16" width="41" height="13.53" fill="#ffbf00"/>
<rect x="898" y="297.92" width="41" height="13.53" fill="#ffca00"/>
<rect x="898" y="284.69" width="41" height="13.53" fill="#ffd400"/>
<rect x="898" y="271.45" width="41" height="13.53" fill="#ffdf00"/>
<rect x="898" y="258.22" width="41" height="13.53" fill="#ffea00"/>
<rect x="898" y="244.98" width="41" height="13.53" fill="#fff400"/>
<rect x="898" y="231.75" width="41" height="13.53" fill="#ffff00"/>
<rect x="898" y="218.52" width="41" height="13.53" fill="#ffff10"/>
<rect x="898" y="205.28" width="41" height="13.53" fill="#ffff20"/>
<rect x="898" y="192.05" width="41" height="13.53" fill="#ffff30"/>
<rect x="898" y="178.81" width="41" height="13.53" fill="#ffff40"/>
<rect x="898" y="165.58" width="41" height="13.53" fill="#ffff50"/>
<rect x="898" y="152.34" width="41" height="13.53" fill="#ffff60"/>
<rect x="898" y="139.11" width="41" height="13.53" fill="#ffff70"/>
<rect x="898" y="125.88" width="41" height="13.53" fill="#ffff80"/>
<rect x="898" y="112.64" width="41" height="13.53" fill="#ffff8f"/>
<rect x="898" y="99.41" width="41" height="13.53" fill="#ffff9f"/>
<rect x="898" y="86.17" width="41" height="13.53" fill="#ffffaf"/>
<rect x="898" y="72.94" width="41" height="13.53" fill="#ffffbf"/>
<rect x="898" y="59.70" width="41" height="13.53" fill="#ffffcf"/>
<rect x="898" y="46.47" width="41" height="13.53" fill="#ffffdf"/>
<rect x="898" y="33.23" width="41" height="13.53" fill="#ffffef"/>
<rect x="898" y="20.00" width="41" height="13.53" fill="#ffffff"/>
<rect x="898" y="7" width="41" height="13.3" fill="#3b393a"/>
<rect x="898" y="867" width="41" height="11.5" fill="#1410a8"/>
</g>
<g stroke="#333" stroke-width="1.2">
<line x1="932" y1="864.0" x2="939" y2="864.0"/>
<line x1="934" y1="780.0" x2="939" y2="780.0"/>
<line x1="932" y1="695.9" x2="939" y2="695.9"/>
<line x1="934" y1="611.8" x2="939" y2="611.8"/>
<line x1="932" y1="527.8" x2="939" y2="527.8"/>
<line x1="934" y1="443.8" x2="939" y2="443.8"/>
<line x1="932" y1="359.7" x2="939" y2="359.7"/>
<line x1="934" y1="275.6" x2="939" y2="275.6"/>
<line x1="932" y1="191.6" x2="939" y2="191.6"/>
<line x1="934" y1="107.5" x2="939" y2="107.5"/>
<line x1="932" y1="23.5" x2="939" y2="23.5"/>
</g>
<rect x="898.5" y="7.5" width="40.5" height="871" fill="none" stroke="#333" stroke-width="1.2"/>
<g class="cb">
<text x="946" y="871.8">0</text>
<text x="946" y="703.7">0.1</text>
<text x="946" y="535.6">0.2</text>
<text x="946" y="367.5">0.3</text>
<text x="946" y="199.4">0.4</text>
<text x="946" y="33.3">0.5</text>
</g>
<text class="cb" style="font-size:19.5px" transform="translate(1005,362.5) rotate(90)">Lead Frequency</text>
</svg>
</body></html>
